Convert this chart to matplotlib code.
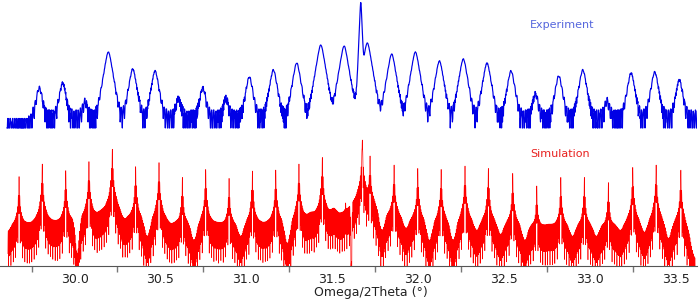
import matplotlib
matplotlib.use("Agg")
import matplotlib.pyplot as plt
import numpy as np
from matplotlib.ticker import FixedLocator

plt.rcParams['font.family'] = ['DejaVu Sans']
plt.rcParams['path.simplify'] = False

# experiment (blue): peak positions (deg) and peak tops (log10 counts)
exp_pos = [29.795, 29.931, 30.061, 30.197, 30.339, 30.469, 30.605, 30.747, 30.882,
           31.018, 31.158, 31.294, 31.434, 31.570, 31.667, 31.705, 31.847, 31.985,
           32.125, 32.264, 32.402, 32.542, 32.684, 32.820, 32.960, 33.101, 33.241,
           33.379, 33.522]
exp_peak = [2.0, 2.25, 1.25, 3.8, 2.95, 2.85, 1.45, 2.0, 1.45,
            2.55, 2.9, 3.25, 4.15, 4.1, 6.3, 4.25, 3.7, 3.8,
            3.35, 3.45, 3.25, 2.85, 1.7, 2.6, 2.9, 1.3, 2.75,
            2.8, 2.4]

# simulation (red): peak positions (deg) and peak tops (log10 intensity)
sim_pos = [29.677, 29.812, 29.949, 30.084, 30.220, 30.356, 30.492, 30.628, 30.764,
           30.900, 31.036, 31.172, 31.307, 31.443, 31.579, 31.676, 31.721, 31.861,
           31.999, 32.135, 32.274, 32.410, 32.552, 32.692, 32.832, 32.969, 33.109,
           33.251, 33.387, 33.531]
sim_peak = [4.47, 5.10, 4.77, 5.22, 5.84, 4.97, 5.17, 4.43, 4.83,
            4.38, 4.75, 4.80, 5.10, 5.43, 2.9, 6.3, 5.5, 5.05,
            4.88, 4.83, 5.0, 4.88, 4.63, 4.0, 4.43, 4.43, 4.17,
            4.93, 5.05, 4.8]

# simulation: lowest point of the upper envelope between peaks
trough_pos = [29.612, 29.745, 29.880, 30.016, 30.152, 30.288, 30.424, 30.560, 30.696,
              30.832, 30.968, 31.104, 31.240, 31.375, 31.511, 31.612, 31.790, 31.930,
              32.067, 32.205, 32.342, 32.481, 32.622, 32.762, 32.900, 33.039, 33.180,
              33.319, 33.459, 33.615]
trough_lvl = [1.75, 2.2, 2.3, 0.65, 2.8, 2.4, 1.5, 2.15, 1.3,
              2.2, 1.5, 2.2, 1.15, 2.7, 2.9, 0.2, 1.8, 1.9,
              1.3, 1.3, 1.8, 1.6, 1.3, 2.1, 1.5, 1.5, 1.8,
              1.7, 1.4, 0.4]
trough_wid = [0.02, 0.022, 0.022, 0.015, 0.022, 0.022, 0.022, 0.022, 0.022,
              0.022, 0.022, 0.022, 0.022, 0.022, 0.022, 0.004, 0.022, 0.022,
              0.022, 0.022, 0.022, 0.022, 0.022, 0.022, 0.022, 0.022, 0.022,
              0.022, 0.022, 0.035]

tick_pos = [30.0, 30.5, 31.0, 31.5, 32.0, 32.5, 33.0, 33.5]
tick_labels = ['30.0', '30.5', '31.0', '31.5', '32.0', '32.5', '33.0', '33.5']
minor_pos = [29.75, 30.25, 30.75, 31.25, 31.75, 32.25, 32.75, 33.25]

EXP_OFFSET = 6.9


def lorentz(x, x0, w):
    return w ** 2 / ((x - x0) ** 2 + w ** 2)


def sech(x, x0, tau):
    return 1.0 / np.cosh((x - x0) / tau)


def peak_index(x, pos):
    """Continuous satellite order, linear beyond the first/last peak."""
    pos = np.asarray(pos)
    k = np.interp(x, pos, np.arange(len(pos)))
    k = np.where(x < pos[0], (x - pos[0]) / (pos[1] - pos[0]), k)
    k = np.where(x > pos[-1], len(pos) - 1 + (x - pos[-1]) / (pos[-1] - pos[-2]), k)
    return k


# ---- simulation curve
x_sim = np.linspace(29.612, 33.615, 24000)
w_sim = 0.0015
env = np.full_like(x_sim, 80.0)
for p, h in zip(sim_pos, sim_peak):
    env += 10 ** h * lorentz(x_sim, p, w_sim)
log_env = np.log10(env)
shift = np.zeros_like(x_sim)
for t, lvl, s in zip(trough_pos, trough_lvl, trough_wid):
    shift += (lvl - np.interp(t, x_sim, log_env)) * np.exp(-((x_sim - t) / s) ** 2)
log_env += shift

i_main = int(np.argmax(sim_peak))
sats = [p for i, p in enumerate(sim_pos) if i != i_main]
phase = np.pi * 30 * peak_index(x_sim, sats)
depth = 1.35 + 0.7 * np.sin(phase / 3) ** 16
fringe = 1 - (1 - 10 ** -depth) * np.sin(phase) ** 2
y_sim = log_env + np.log10(fringe)
# keep the substrate spike itself unbroken
core = np.exp(-0.5 * ((x_sim - sim_pos[i_main]) / 0.001) ** 2)
y_sim = np.maximum(y_sim, np.log10(10 ** sim_peak[i_main] * core + 1e-9))

# ---- experiment curve (counts with counting scatter)
x_exp = np.arange(29.607, 33.627, 0.0018)
j_main = int(np.argmax(exp_peak))
lam = 1.0 + 2.6 / (1 + np.exp(-(x_exp - 29.75) / 0.006))
lam += 10 ** 1.8 * lorentz(x_exp, exp_pos[j_main], 0.02)
for j, (p, h) in enumerate(zip(exp_pos, exp_peak)):
    tau = 0.0022 if j == j_main else 0.0085
    lam += 10 ** h * sech(x_exp, p, tau)
scatter = np.sin(x_exp * 7483.0 + 3 * np.sin(x_exp * 1733.0))
counts = np.maximum(np.round(lam + 2.2 * np.sqrt(lam) * scatter), 1)
y_exp = EXP_OFFSET + np.log10(counts)

# ---- figure
fig = plt.figure(figsize=(7, 3), dpi=100)
ax = fig.add_axes([0, 34 / 300, 697 / 700, 266 / 300])
ax.plot(x_exp, y_exp, color='#0000e6', lw=0.85)
ax.plot(x_sim, y_sim, color='#ff0000', lw=0.45)

ax.text(32.842, 12.05, 'Experiment', color='#5566dd', ha='center', va='center', fontsize=8)
ax.text(32.828, 5.6, 'Simulation', color='#e8201e', ha='center', va='center', fontsize=8)

ax.set_xlim(29.566, 33.625)
ax.set_ylim(0, 13.3)
ax.set_yticks([])
for side in ['top', 'left', 'right']:
    ax.spines[side].set_visible(False)
ax.spines['bottom'].set_color('#555555')
ax.xaxis.set_major_locator(FixedLocator(tick_pos))
ax.set_xticklabels(tick_labels)
ax.xaxis.set_minor_locator(FixedLocator(minor_pos))
ax.tick_params(axis='x', which='major', length=0, pad=5, labelsize=9, labelcolor='#222222')
ax.tick_params(axis='x', which='minor', length=4, width=1, color='#777777')
ax.set_xlabel('Omega/2Theta (°)', fontsize=9, color='#222222')
ax.xaxis.set_label_coords(0.532, -0.075)

fig.savefig('out.png', dpi=100)
